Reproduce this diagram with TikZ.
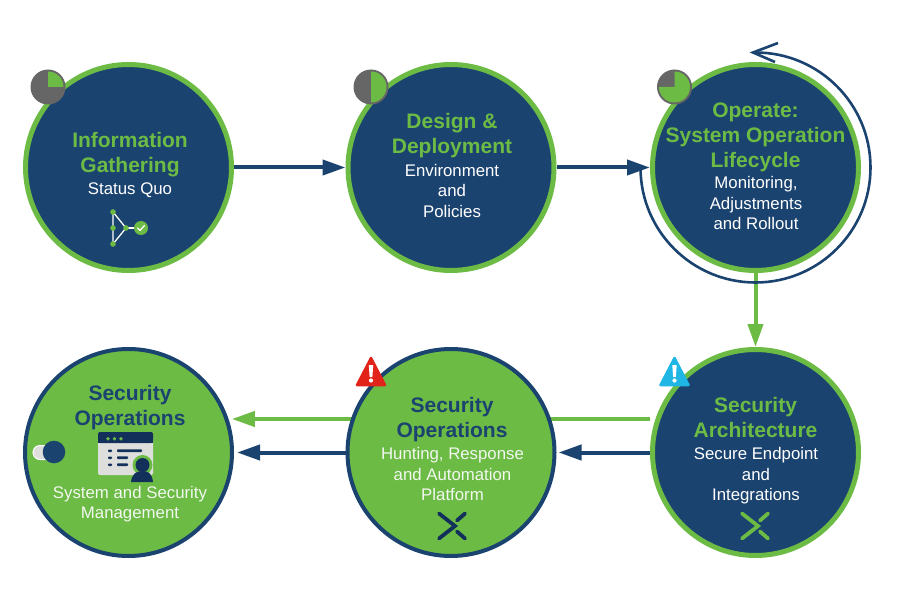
\documentclass[tikz,border=0pt]{standalone}
\usepackage{fontspec}
\setmainfont{Liberation Sans}
\usetikzlibrary{arrows.meta,backgrounds,calc}
\definecolor{navy}{HTML}{1B4370}
\definecolor{leaf}{HTML}{6CBB45}
\definecolor{slate}{HTML}{666666}
\definecolor{softwhite}{HTML}{F2F7EF}
\definecolor{panel}{HTML}{DEDFDD}
\definecolor{inknavy}{HTML}{12305A}
\definecolor{alertred}{HTML}{E2231A}
\definecolor{alertcyan}{HTML}{1FB6E6}
\tikzset{
  x=1pt,y=1pt,
  bluestep/.style={circle,minimum size=206pt,inner sep=0pt,line width=5pt,draw=leaf,fill=navy},
  greenstep/.style={circle,minimum size=207pt,inner sep=0pt,line width=4pt,draw=navy,fill=leaf},
  ttl/.style={anchor=north,inner sep=0pt,align=center,font=\fontsize{21}{25}\selectfont\bfseries},
  sub/.style={anchor=north,inner sep=0pt,align=center,font=\fontsize{16.8}{20.5}\selectfont},
  navyarrow/.style={draw=navy,line width=4pt,-{Triangle[length=23pt,width=15pt]}},
  leafarrow/.style={draw=leaf,line width=4pt,-{Triangle[length=23pt,width=15pt]}},
  xstroke/.style={line width=3.8pt,line cap=round}
}
\newcommand{\xmark}[3]{%
  \draw[xstroke,#3] (#1-13,#2+12.5) -- (#1+3,#2) -- (#1-13,#2-12.5);
  \draw[xstroke,#3] (#1+13,#2+12.5) -- (#1+5,#2+5.5);
  \draw[xstroke,#3] (#1+13,#2-12.5) -- (#1+5,#2-5.5);
}
\newcommand{\alertsign}[3]{%
  \fill[#3,draw=#3,line width=2.5pt,line join=round] (#1,#2+27) -- (#1+14,#2) -- (#1-14,#2) -- cycle;
  \fill[white] (#1-2.2,#2+20) -- (#1+2.2,#2+20) -- (#1+1.4,#2+8) -- (#1-1.4,#2+8) -- cycle;
  \fill[white] (#1,#2+4.5) circle (2.1);
}
\begin{document}
\begin{tikzpicture}
\useasboundingbox (0,0) rectangle (900,-591);
% circles
\node[bluestep] (c1) at (128.5,-167.5) {};
\node[bluestep] (c2) at (451,-167.5) {};
\node[bluestep] (c3) at (755.5,-167.5) {};
\node[bluestep] (c4) at (755.5,-452.5) {};
\node[greenstep] (c5) at (451,-452.5) {};
\node[greenstep] (c6) at (128.5,-452.5) {};
% connectors
\begin{scope}[on background layer]
\draw[leafarrow,shorten >=3pt] (c4.west |- 0,-419) -- (c6.18.5 |- 0,-419);
\end{scope}
\draw[navyarrow] (c1) -- (c2);
\draw[navyarrow] (c2) -- (c3);
\draw[leafarrow] (c3) -- (c4);
\draw[navyarrow,shorten >=2pt] (c4) -- (c5);
\draw[navyarrow,shorten >=3pt] (c5) -- (c6);
% loop around Operate
\draw[navy,line width=2.6pt] ($(c3.center)+(-115,0)$) arc[start angle=180,end angle=450,radius=115];
\draw[navy,line width=2.6pt,line join=miter] (778,-43) -- ($(c3.center)+(-2.5,115)$) -- (775,-62);
% text
\node[ttl,text=leaf] (c1t) at (130,-129.8) {\strut Information\\Gathering};
\node[sub,text=white] (c1s) at (130,-180) {\strut Status Quo};
\node[ttl,text=leaf] (c2t) at (452,-111) {\strut Design \&\\Deployment};
\node[sub,text=white] (c2s) at (452,-161.7) {\strut Environment\\and\\Policies};
\node[ttl,text=leaf] (c3t) at (755.5,-99.8) {\strut Operate:\\System Operation\\Lifecycle};
\node[sub,text=white] (c3s) at (756,-174.2) {\strut Monitoring,\\Adjustments\\and Rollout};
\node[ttl,text=leaf] (c4t) at (755.5,-395.2) {\strut Security\\Architecture};
\node[sub,text=white] (c4s) at (756,-445) {\strut Secure Endpoint\\and\\Integrations};
\node[ttl,text=navy] (c5t) at (452,-395.2) {\strut Security\\Operations};
\node[sub,text=softwhite] (c5s) at (452.5,-445) {\strut Hunting, Response\\and Automation\\Platform};
\node[ttl,text=navy] (c6t) at (130,-382.5) {\strut Security\\Operations};
\node[sub,text=softwhite] (c6s) at (130,-483.7) {\strut System and Security\\Management};
% progress badges
\fill[slate] (48,-87) circle (17.5);
\fill[leaf] (48,-87) -- (48,-71.5) arc[start angle=90,end angle=0,radius=15.5] -- cycle;
\fill[slate] (371,-87) circle (17.5);
\fill[leaf] (371,-71.5) arc[start angle=90,end angle=-90,radius=15.5] -- cycle;
\fill[slate] (674.5,-87) circle (17.5);
\fill[leaf] (674.5,-87) -- (674.5,-71.5) arc[start angle=90,end angle=-180,radius=15.5] -- cycle;
% graph icon
\draw[white,line width=1.3pt] (113,-212) -- (113,-244) -- (126,-228) -- cycle;
\draw[white,line width=1.3pt] (126,-228) -- (141,-228);
\fill[leaf] (113,-212) circle (2.8) (113,-228) circle (2.8) (113,-244) circle (2.8) (126,-228) circle (2.8) (141,-228) circle (7);
\draw[white,line width=1.3pt,line cap=round,line join=round] (137.5,-228) -- (140,-230.5) -- (144.5,-225.5);
% X icons
\xmark{452}{-526}{inknavy}
\xmark{755}{-526}{leaf}
% alerts
\alertsign{371}{-385}{alertred}
\alertsign{674.5}{-385}{alertcyan}
% toggle
\fill[panel,draw=white,line width=1pt] (40,-445.5) arc[start angle=90,end angle=270,radius=7] -- (56,-459.5) -- (56,-445.5) -- cycle;
\fill[navy] (54,-452) circle (11.3);
% console icon
\fill[panel,rounded corners=2pt] (98,-436) rectangle (153,-475);
\fill[inknavy,rounded corners=2pt] (98,-432) rectangle (153,-443);
\fill[inknavy] (98,-439) rectangle (153,-443);
\fill[leaf] (108,-438.7) circle (1.9) (114.5,-438.7) circle (1.9) (121,-438.7) circle (1.9);
\fill[inknavy,rounded corners=.8pt] (108,-449.5) rectangle (112,-452) (117,-449.3) rectangle (142,-452)
  (108,-456.5) rectangle (112,-459) (117,-456.3) rectangle (128,-459)
  (108,-463.5) rectangle (112,-466) (117,-463.3) rectangle (128,-466);
\fill[leaf] (142.5,-465) circle (10);
\fill[inknavy] (142.5,-465) circle (7);
\fill[inknavy] (131,-482) .. controls (132,-474) and (136,-471) .. (142.5,-471) .. controls (149,-471) and (152,-474) .. (153,-482) -- cycle;
\end{tikzpicture}
\end{document}
